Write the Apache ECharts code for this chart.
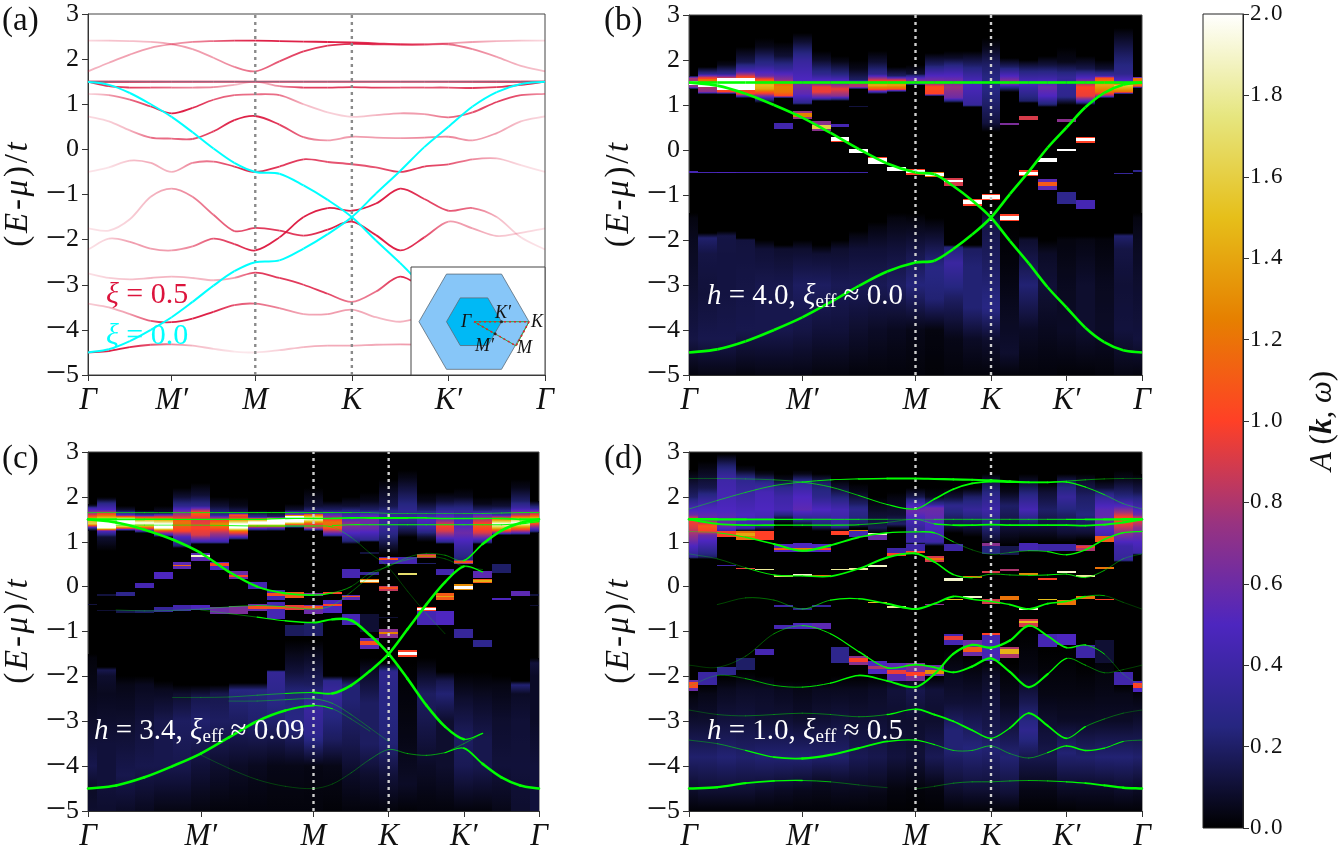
<!DOCTYPE html>
<html>
<head>
<meta charset="utf-8">
<style>html,body{margin:0;padding:0;background:#fff}#chart{width:1341px;height:856px}</style>
<script src="https://cdn.jsdelivr.net/npm/echarts@6/dist/echarts.min.js"></script>
</head>
<body>
<div id="chart"></div>
<script>
// High-symmetry path: tick positions and sampling of the band arrays along it
const tickNames = ['Γ', 'M′', 'M', 'K', 'K′', 'Γ'];
const kTicksA = [0, 0.866, 1.732, 2.732, 3.732, 4.732];
const kTicksMap = [0, 6, 12, 16, 20, 24];
const kGridA = [0, 0.2165, 0.433, 0.6495, 0.866, 1.0825, 1.299, 1.5155, 1.732, 1.982, 2.232, 2.482, 2.732, 2.982, 3.232, 3.482, 3.732, 3.982, 4.232, 4.482, 4.732];
const kGridMap = [0, 1.5, 3, 4.5, 6, 7.5, 9, 10.5, 12, 13, 14, 15, 16, 17, 18, 19, 20, 21, 22, 23, 24];
const energyTicks = [-5, 3];
const colorTicksMax = 2;

// Non-interacting bands (xi = 0)
const freeUpper = [1.5, 1.43, 1.25, 1, .72, .38, .02, -.3, -.5, -.54, -.8, -1.12, -1.5, -2.02, -2.52, -3.05, -3.5, -3.95, -4.27, -4.45, -4.5];
const freeLower = [-4.5, -4.43, -4.25, -4, -3.72, -3.38, -3.02, -2.7, -2.5, -2.46, -2.2, -1.88, -1.5, -.98, -.48, .05, .5, .95, 1.27, 1.45, 1.5];
const flatLevel = [1.5, 1.5, 1.5, 1.5, 1.5, 1.5, 1.5, 1.5, 1.5, 1.5, 1.5, 1.5, 1.5, 1.5, 1.5, 1.5, 1.5, 1.5, 1.5, 1.5, 1.5];
const fullWeight = [1, 1, 1, 1, 1, 1, 1, 1, 1, 1, 1, 1, 1, 1, 1, 1, 1, 1, 1, 1, 1];

// xi = 0.5 bands with their spectral weights
const halfA = [2.41, 2.41, 2.40, 2.38, 2.33, 2.22, 2.03, 1.83, 1.73, 1.95, 2.17, 2.30, 2.34, 2.33, 2.32, 2.32, 2.33, 2.22, 2.05, 1.85, 1.73];
const halfB = [1.73, 1.92, 2.1, 2.25, 2.33, 2.38, 2.40, 2.41, 2.41, 2.40, 2.39, 2.38, 2.37, 2.35, 2.33, 2.33, 2.35, 2.38, 2.40, 2.41, 2.41];
const halfD = [1.5, 1.40, 1.37, 1.37, 1.37, 1.37, 1.38, 1.43, 1.5, 1.40, 1.37, 1.37, 1.38, 1.37, 1.37, 1.37, 1.37, 1.36, 1.38, 1.43, 1.5];
const halfE = [1.23, 1.2, 1.1, .95, .8, .92, 1.1, 1.2, 1.22, 1.2, 1.0, .82, .72, .76, .8, .78, .71, .82, 1.05, 1.2, 1.23];
const halfF = [.73, .62, .42, .26, .24, .23, .4, .65, .74, .55, .27, .2, .28, .26, .25, .26, .28, .2, .36, .62, .73];
const halfG = [-.5, -.4, -.25, -.3, -.5, -.3, -.27, -.38, -.5, -.38, -.22, -.28, -.33, -.4, -.5, -.38, -.33, -.22, -.2, -.35, -.5];
const halfH = [-1.75, -1.8, -1.55, -1.05, -.87, -1.05, -1.45, -1.81, -1.74, -1.8, -1.91, -1.78, -1.6, -1.9, -2.24, -1.95, -1.6, -1.75, -1.92, -1.85, -1.75];
const halfI = [-2.22, -1.98, -2.05, -2.2, -2.24, -2.15, -1.98, -2.1, -2.24, -1.95, -1.5, -1.3, -1.36, -1.2, -.87, -1.1, -1.36, -1.3, -1.5, -1.95, -2.22];
const halfJ = [-2.75, -2.85, -2.88, -2.85, -2.82, -2.85, -2.9, -2.85, -2.73, -2.85, -3, -3.2, -3.38, -3.15, -2.82, -3.1, -3.38, -3.12, -2.95, -2.82, -2.75];
const halfK = [-3.42, -3.5, -3.65, -3.8, -3.83, -3.75, -3.6, -3.45, -3.42, -3.52, -3.65, -3.65, -3.55, -3.72, -3.82, -3.7, -3.55, -3.65, -3.6, -3.45, -3.42];
const halfL = [-4.5, -4.47, -4.38, -4.33, -4.32, -4.35, -4.42, -4.48, -4.5, -4.45, -4.38, -4.35, -4.35, -4.33, -4.32, -4.33, -4.35, -4.38, -4.43, -4.48, -4.5];
const weightA = [.05, .15, .15, .2, .3, .3, .3, .4, .5, .6, .7, .7, .8, .7, .6, .5, .5, .4, .3, .2, .15];
const weightB = [.2, .25, .3, .3, .3, .4, .5, .7, .8, .8, .8, .8, .8, .7, .6, .4, .3, .3, .2, .15, .05];
const weightC = [1, 1, .8, .6, .4, .4, .3, .3, .1, .3, .3, .3, .3, .3, .3, .3, .4, .6, .8, 1, 1];
const weightD = [.9, .7, .7, .6, .5, .4, .4, .2, .1, .4, .7, .7, .7, .7, .6, .6, .6, .7, .7, .8, .9];
const weightE = [.03, .3, .5, .7, .9, .8, .6, .5, .5, .5, .2, .1, .1, .2, .3, .3, .5, .6, .7, .6, .3];
const weightF = [.05, .1, .2, .5, .5, .6, .7, .8, .9, .7, .5, .3, .3, .3, .3, .4, .4, .3, .3, .15, .05];
const weightG = [.02, .02, .15, .25, .2, .4, .5, .7, .8, .7, .7, .6, .6, .6, .7, .7, .6, .4, .2, .05, .02];
const weightH = [.02, .05, .1, .2, .3, .4, .5, .6, .7, .7, .7, .8, .9, .8, .9, .7, .3, .3, .15, .1, .02];
const weightI = [.02, .1, .3, .3, .3, .4, .6, .7, .8, .8, .9, .9, .9, .9, .8, .7, .6, .5, .2, .05, .02];
const weightJ = [.02, .1, .15, .2, .2, .2, .2, .3, .7, .7, .7, .7, .4, .5, .9, .7, .6, .3, .2, .1, .02];
const weightK = [.1, .2, .3, .6, .9, .9, .8, .6, .5, .4, .25, .3, .3, .2, .2, .3, .6, .6, .5, .3, .15];
const weightL = [1, .9, .8, .6, .4, .2, .1, 0, 0, .1, .2, .25, .25, .25, .3, .3, .4, .6, .8, .9, 1];

// xi = 0.09 bands; null marks a stretch without visible weight
const partA = [1.5, 1.43, 1.27, 1.05, .75, .33, 0, -.15, -.19, -.14, 0, .3, .45, .65, .74, .7, .58, .95, 1.25, 1.42, 1.5];
const partAw = [1, 1, 1, 1, 1, .9, .9, .7, .6, .4, .15, .15, .15, .15, .15, .2, .3, 1, 1, 1, 1];
const partB = [null, -.52, -.54, -.53, -.5, -.45, -.42, -.45, -.5, -.42, -.12, .22, .47, .6, .68, .62, .45, .38, null, null, null];
const partBw = [0, .1, .1, .1, .15, .2, .3, .3, .3, .2, .15, .15, .15, .1, .1, .1, .1, .1, 0, 0, 0];
const partC = [null, null, null, -2.47, -2.47, -2.46, -2.42, -2.38, -2.36, -2.38, -2.2, -1.88, -1.5, -.95, -.4, .1, .45, .33, null, null, null];
const partCw = [0, 0, 0, .05, .1, .15, .2, .3, .5, .9, 1, 1, 1, 1, 1, 1, .8, .1, 0, 0, 0];
const partD = [-4.5, -4.43, -4.25, -4, -3.72, -3.36, -3, -2.76, -2.65, -2.72, -2.95, -3.22, null, null, null, null, null, null, null, null, null];
const partDw = [1, 1, 1, 1, 1, 1, 1, .9, .7, .2, .1, .1, 0, 0, 0, 0, 0, 0, 0, 0, 0];
const partE = [null, null, null, null, -.52, -.6, -.68, -.76, -.8, -.73, -.75, -1.08, -1.5, -2.05, -2.64, -3.12, -3.4, -3.27, null, null, null];
const partEw = [0, 0, 0, 0, .1, .15, .3, .5, .6, .9, 1, 1, 1, 1, 1, 1, .9, .1, 0, 0, 0];
const partF = [null, null, null, null, null, -2.55, -2.55, -2.52, -2.5, -2.6, -2.85, -3.15, -3.45, null, null, null, null, null, null, null, null];
const partFw = [0, 0, 0, 0, 0, .1, .15, .2, .3, .2, .15, .1, .08, 0, 0, 0, 0, 0, 0, 0, 0];
const partG = [null, null, null, null, -3.75, -4.05, -4.3, -4.45, -4.5, -4.4, -4.15, -3.85, -3.63, -3.72, -3.76, -3.7, -3.6, -3.95, -4.25, -4.43, -4.5];
const partGw = [0, 0, 0, 0, .05, .05, .05, .05, .05, .05, .1, .15, .25, .25, .25, .3, .5, 1, 1, 1, 1];
const partH = [null, null, null, null, null, null, null, null, null, null, null, null, null, null, null, -3.7, -3.5, -3.27, null, null, null];
const partHw = [0, 0, 0, 0, 0, 0, 0, 0, 0, 0, 0, 0, 0, 0, 0, .15, .3, .1, 0, 0, 0];
const partI = [null, 1.37, 1.37, 1.37, 1.37, 1.36, 1.35, 1.35, 1.35, 1.33, 1.1, .75, .42, -.1, -.6, -1.05, null, null, null, null, null];
const partIw = [0, .3, .3, .3, .3, .3, .4, .4, .4, .3, .1, .1, .06, .06, .06, .06, 0, 0, 0, 0, 0];
const partJ = [1.65, 1.65, 1.65, 1.65, 1.65, 1.65, 1.65, 1.65, 1.65, 1.65, 1.65, 1.65, 1.63, 1.63, 1.63, 1.63, 1.63, 1.63, 1.64, 1.65, 1.65];
const partJw = [.3, .3, .3, .3, .3, .35, .35, .35, .35, .35, .3, .25, .25, .25, .25, .25, .25, .3, .3, .35, .35];
const partK = [1.5, 1.5, 1.5, 1.5, 1.5, 1.5, 1.5, 1.52, 1.52, 1.52, 1.53, 1.53, 1.53, 1.53, 1.53, 1.52, 1.52, 1.52, 1.52, 1.5, 1.5];
const partKw = [1, .8, .6, .5, .5, .5, .5, .5, .6, .6, .7, .7, .7, .7, .6, .6, .6, .5, .6, .8, 1];
const partL = [null, null, null, null, null, null, null, null, null, 1.36, 1.38, 1.38, 1.38, 1.38, 1.38, 1.38, 1.38, 1.38, 1.38, 1.4, 1.45];
const partLw = [0, 0, 0, 0, 0, 0, 0, 0, 0, .3, .4, .4, .4, .4, .4, .4, .4, .4, .4, .4, .5];

// Spectral function A(k, w): one row per k column, flat [E, A, E, A, ...] profiles
const lowB = [
  [-5,.04,-4.2,.18,-3,.12,-2,.08,-1.5,.04,-1.4,0],
  [-5,.05,-4.2,.2,-3.2,.15,-2.3,.18,-1.95,.28,-1.85,0],
  [-5,.05,-4.2,.2,-3.2,.17,-2.3,.17,-1.9,.18,-1.8,0],
  [-5,.04,-4,.2,-3,.18,-2,.16,-1.95,0],
  [-5,.05,-4,.2,-3,.2,-2.2,.14,-2,0],
  [-5,.05,-4,.2,-3,.2,-2.2,.12,-2.1,0],
  [-5,.05,-4,.18,-3,.25,-2.2,.12,-2,0],
  [-5,.04,-4,.15,-3,.25,-2.3,.13,-2.1,0],
  [-5,.04,-4,.15,-3,.22,-2.2,.12,-2,0],
  [-5,.03,-4,.12,-3,.22,-2.2,.14,-1.9,.05,-1.8,0],
  [-5,.03,-4,.1,-3,.22,-2.2,.14,-1.7,.04,-1.6,0],
  [-5,.03,-4,.08,-3,.25,-2.2,.15,-1.5,.04,-1.4,0],
  [-5,.03,-4,.06,-3,.32,-2.3,.2,-1.6,.05,-1.4,0],
  [-5,.02,-4,.04,-3.3,.3,-2.6,.35,-2,.15,-1.6,.03,-1.5,0],
  [-5,.03,-4.2,.06,-3.3,.25,-2.5,.5,-2.15,.3,-2.1,0],
  [-5,.03,-4.2,.1,-3.5,.3,-2.6,.3,-2.2,.25,-2.1,0],
  [-5,.03,-4.2,.12,-3.5,.35,-2.5,.25,-1.6,.18,-1.3,0],
  [-5,.03,-4.5,.12,-3.5,.08,-2.5,.03,-1.6,0],
  [-5,.03,-4,.1,-3,.3,-2.5,.2,-2,.12,-1.9,0],
  [-5,.03,-4,.08,-3,.14,-2.3,.1,-2,0],
  [-5,.02,-4,.1,-3,.08,-2,.04,-1.9,0],
  [-5,.02,-4,.12,-3,.12,-2,.05,-1.9,0],
  [-5,.03,-4,.1,-3,.08,-2,.03,-1.9,0],
  [-5,.05,-4,.16,-3,.14,-2.2,.18,-1.9,.28,-1.85,0],
  [-5,.04,-4.2,.16,-3,.12,-2,.08,-1.5,.04,-1.4,0]
];
const highB = [
  [1.35,0,1.4,.7,1.6,.8,1.65,0],
  [1.25,0,1.3,.7,1.6,1,1.7,.3,1.85,0],
  [1.25,0,1.3,1,1.55,1.2,1.7,.3,1.9,.05,2,0],
  [1.15,0,1.25,1,1.6,1.1,1.75,.45,1.95,.15,2.3,0],
  [1.05,0,1.15,.4,1.25,.9,1.35,1.4,1.45,1.5,1.55,1.1,1.65,.6,1.9,.3,2.3,.05,2.5,0],
  [1.15,0,1.2,1,1.3,1.2,1.4,1.25,1.5,1.1,1.55,.7,1.8,.35,2.1,.1,2.4,0],
  [1,0,1.05,.3,1.25,.55,1.45,.65,1.55,.5,2,.35,2.4,.1,2.6,0],
  [1.1,0,1.15,.5,1.3,.95,1.4,.95,1.5,.6,1.7,.3,2,.08,2.2,0],
  [1.1,0,1.2,.7,1.35,.95,1.5,.6,1.7,.25,1.95,.05,2.1,0],
  [1.35,0,1.4,.8,1.5,.8,1.55,.2,1.8,.05,2,0],
  [1.25,0,1.3,.4,1.35,1.1,1.45,1.45,1.5,1.2,1.6,.7,1.7,.3,1.95,.1,2.2,0],
  [1.3,0,1.35,1.1,1.45,1.4,1.55,.9,1.65,.2,1.85,0],
  [1.45,0,1.5,.8,1.6,.5,1.7,.1,1.9,0],
  [1.2,0,1.25,1,1.4,1.05,1.5,.7,1.7,.45,1.9,.2,2.15,0],
  [1.05,0,1.15,.6,1.4,.75,1.55,.6,1.8,.35,2.05,.08,2.2,0],
  [.95,0,1,.35,1.5,.5,1.9,.2,2.2,0],
  [.4,0,.6,.12,1,.2,1.5,.28,1.9,.2,2.3,.05,2.5,0],
  [1.3,0,1.4,.3,1.5,.75,1.65,.5,1.85,.2,2.05,0],
  [1.05,0,1.1,.2,1.4,.4,1.5,.5,1.8,.2,2,0],
  [.95,0,1,.2,1.2,.5,1.4,.6,1.6,.4,1.9,.12,2.1,0],
  [1,0,1.2,.3,1.6,.35,1.95,.05,2.3,0],
  [1,0,1.1,.5,1.2,.95,1.4,1,1.6,.5,1.8,.15,2.1,0],
  [1.15,0,1.2,.7,1.3,1.2,1.45,1.4,1.6,1.05,1.65,.4,1.8,.1,2,0],
  [1.25,0,1.3,1.2,1.45,1.6,1.5,.6,1.7,.3,2.1,.2,2.6,.04,2.7,0],
  [1.38,0,1.42,1.2,1.6,1.2,1.62,0]
];
// Sharp quasiparticle peaks: [E from, E to, A]
const spotsB = [
  [[-.5,-.46,.45],[1.44,1.54,2]],
  [[-.52,-.49,.45],[1.52,1.57,1.2],[1.4,1.5,2]],
  [[-.52,-.49,.5],[1.33,1.6,2]],
  [[-.52,-.49,.45],[1.33,1.6,2]],
  [[-.52,-.49,.45]],
  [[-.52,-.49,.45],[.47,.59,.42]],
  [[-.52,-.49,.45],[.68,.86,.75],[.74,.82,1.25]],
  [[-.52,-.49,.45],[.42,.65,.7],[.47,.56,1.6]],
  [[-.52,-.49,.45],[.52,.58,.45],[.18,.3,1],[.2,.28,2]],
  [[-.52,-.49,.4],[-.06,.02,2],[.95,.98,.12]],
  [[-.32,-.15,1],[-.3,-.17,2]],
  [[-.47,-.38,2]],
  [[-.56,-.43,1],[-.52,-.45,2]],
  [[-.6,-.48,1.2],[-.58,-.5,2]],
  [[-.8,-.63,.9],[-.72,-.66,2]],
  [[-1.25,-1.08,1],[-1.2,-1.1,2]],
  [[-1.12,-.98,1],[-1.08,-1,2]],
  [[.55,.6,.65],[-1.58,-1.42,1],[-1.55,-1.46,2]],
  [[.67,.75,.9],[-.58,-.45,1],[-.55,-.48,2]],
  [[-.26,-.17,2],[-.88,-.65,.55],[-.79,-.72,1.1]],
  [[.62,.7,.7],[-.03,.03,2],[-1.2,-.93,.3]],
  [[.16,.28,1],[.19,.26,2],[-1.3,-1.12,.45]],
  [],
  [[-.54,-.5,.35]],
  [[-.49,-.45,.3]]
];

const lowC = [
  [-5,.12,-4.5,.1,-4,.2,-3.2,.12,-2.2,.06,-1.6,.03,-1.5,0],
  [-5,.12,-4.4,.15,-3.5,.15,-2.4,.08,-2,.12,-1.85,.2,-1.8,0],
  [-5,.1,-4.2,.2,-3,.12,-2.2,.06,-2,0],
  [-5,.08,-4,.2,-3,.15,-2.2,.08,-2,0],
  [-5,.05,-4,.2,-3,.2,-2.3,.08,-2.1,0],
  [-5,.05,-4,.2,-3,.25,-2.4,.12,-2.2,0],
  [-5,.04,-4,.15,-3,.28,-2.45,.2,-2.2,0],
  [-5,.03,-4,.12,-3,.25,-2.4,.2,-2.2,0],
  [-5,.03,-4,.1,-3,.25,-2.3,.33,-2.15,0],
  [-5,.03,-4,.08,-3,.28,-2.3,.33,-2.15,0],
  [-5,.03,-4,.06,-3,.28,-2.3,.4,-1.9,.45,-1.85,0],
  [-5,.03,-4,.06,-3,.35,-2.3,.3,-1.9,.15,-1.2,0],
  [-5,.03,-4,.05,-3.3,.4,-2.7,.5,-2.2,.25,-1.5,.08,-1.2,0],
  [-5,.02,-4,.06,-3.4,.25,-2.8,.35,-2.4,.5,-2.1,.4,-2,0],
  [-5,.03,-4.2,.1,-3.5,.2,-2.5,.3,-2.2,.3,-2,0],
  [-5,.03,-4.2,.12,-3.5,.25,-2.6,.25,-1.9,.1,-1.6,0],
  [-5,.03,-4.2,.15,-3.5,.3,-2.5,.35,-1.9,.4,-1.7,0],
  [-5,.02,-4.4,.1,-3.5,.06,-2.5,.03,-1.7,0],
  [-5,.03,-4,.1,-3,.2,-2.4,.25,-1.8,.05,-1.6,0],
  [-5,.03,-4,.12,-3,.12,-2.4,.3,-2.1,.2,-1.9,0],
  [-5,.03,-4,.22,-3.4,.25,-2.5,.12,-1.9,0],
  [-5,.03,-4,.2,-3.4,.2,-2.5,.1,-1.9,0],
  [-5,.06,-4,.15,-3,.12,-2.2,.05,-2,0],
  [-5,.12,-4,.15,-3,.14,-2.4,.1,-2.2,.3,-2.1,0],
  [-5,.15,-4,.15,-3,.1,-2,.1,-1.7,.15,-1.6,0]
];
const highC = [
  [1.25,0,1.3,.3,1.4,1.6,1.5,1.5,1.6,.9,1.75,.4,1.8,.1,1.85,0],
  [.8,0,1.1,.1,1.25,.5,1.3,2,1.45,2,1.55,1.4,1.7,.5,1.85,.3,1.95,.05,2,0],
  [1.25,0,1.27,.3,1.32,1.5,1.4,2,1.5,2,1.6,.5,1.7,.1,1.8,0],
  [1.2,0,1.25,.4,1.35,1.5,1.42,2,1.55,1,1.6,.3,1.7,0],
  [1.1,0,1.15,.4,1.25,1,1.3,2,1.4,2,1.55,1,1.65,.1,1.8,0],
  [.85,0,.9,.2,1.1,.5,1.25,1,1.45,1.2,1.6,.8,1.8,.3,2,.1,2.2,0],
  [.95,0,1,.4,1.15,.9,1.3,1,1.5,.9,1.65,1.1,1.8,.3,2.05,.1,2.3,0],
  [.95,0,1,.4,1.2,.8,1.4,1.3,1.5,.9,1.6,.3,1.8,.1,2,0],
  [1.05,0,1.1,.5,1.25,1.2,1.3,2,1.4,2,1.55,.9,1.6,1.1,1.65,.2,1.8,.05,2,0],
  [1.25,0,1.3,.6,1.35,1.2,1.4,2,1.45,2,1.5,1.2,1.55,.3,1.7,0],
  [1.25,0,1.3,.5,1.4,2,1.5,2,1.55,.2,1.7,0],
  [1.3,0,1.35,.6,1.45,2,1.57,2,1.6,.7,1.7,.1,1.85,0],
  [1.25,0,1.3,.8,1.4,1,1.5,2,1.6,1.2,1.65,.3,1.8,.1,2.2,0],
  [1.1,0,1.15,.4,1.3,1.1,1.45,1.2,1.55,.7,1.7,.2,1.9,0],
  [.95,0,1,.2,1.2,.5,1.4,.7,1.6,.4,1.8,.1,2,0],
  [1,0,1.05,.3,1.3,.6,1.55,.6,1.7,.2,1.9,.05,2.1,0],
  [.7,0,.9,.1,1.3,.35,1.6,.35,1.8,.15,2.2,.05,2.4,0],
  [1.1,0,1.2,.1,1.5,.35,1.7,.3,2.1,.15,2.4,.05,2.6,0],
  [1,0,1.1,.1,1.3,.4,1.5,.5,1.7,.2,1.9,.05,2.1,0],
  [.95,0,1,.3,1.25,.9,1.35,1,1.5,.6,1.7,.3,1.9,.1,2.1,0],
  [.5,0,.55,.2,.9,.4,1.2,.6,1.5,.45,1.7,.3,2,.05,2.2,0],
  [.95,0,1,.3,1.2,.9,1.35,1.1,1.5,.8,1.7,.2,1.85,.05,2,0],
  [1.15,0,1.2,.6,1.3,1.5,1.4,2,1.5,1.2,1.6,.4,1.8,.1,2,0],
  [1.15,0,1.2,.5,1.35,1.5,1.42,2,1.5,1.6,1.6,.8,1.75,.4,1.9,.2,2.2,.05,2.4,0],
  [1.2,0,1.25,.3,1.4,1,1.5,1.6,1.6,1,1.75,.3,1.9,0]
];
const spotsC = [
  [[-.41,-.39,.12]],
  [[-.2,-.17,.12],[-.54,-.51,.1]],
  [[-.2,-.13,.3],[-.58,-.53,.15]],
  [[-.02,.07,.45],[-.58,-.52,.2]],
  [[.18,.33,.5],[-.57,-.45,.35]],
  [[.4,.55,.55],[.45,.49,1.15],[-.55,-.42,.42]],
  [[.58,.75,.55],[.65,.7,1.9],[-.52,-.4,.5]],
  [[.38,.55,.5],[.47,.52,1],[-.6,-.45,.6]],
  [[.18,.35,.6],[.22,.27,1],[-.6,-.43,.65]],
  [[-.05,.1,.45],[-.55,-.38,.6],[-.5,-.43,1.05]],
  [[-.3,-.08,.45],[-.21,-.14,1.05],[-.72,-.35,.45],[-.5,-.43,1.05]],
  [[-.25,-.12,1.1],[-.52,-.4,.95],[-1.1,-.85,.18]],
  [[-.22,-.15,.65],[-.6,-.4,.6],[-.5,-.44,1.05],[-1.1,-.8,.2]],
  [[-.17,-.12,1],[-.58,-.3,.5],[-.43,-.38,1]],
  [[.2,.4,.45],[-.3,-.18,.55],[-.24,-.2,1.05],[-.85,-.6,.45]],
  [[.08,.17,1.2],[.11,.15,1.9],[.25,.32,.35],[-1.38,-1.15,.55],[-1.3,-1.22,1.05],[-1,-.6,.1],[.72,.78,.12]],
  [[.5,.65,.45],[.6,.64,1.05],[-.1,.02,.85],[-.06,-.01,1.05],[-1.15,-.95,.7],[-1.06,-1,1.25],[-.7,-.68,.1]],
  [[.5,.65,.45],[.26,.3,1.7],[-1.56,-1.42,1],[-1.53,-1.45,2]],
  [[.63,.72,.85],[.66,.7,1.1],[.5,.53,.2],[-.55,-.45,1],[-.53,-.47,2],[-.85,-.55,.45]],
  [[.25,.4,.42],[-.3,-.15,1.1],[-.24,-.2,1.4],[-.85,-.55,.5]],
  [[.5,.6,.7],[.53,.57,1.05],[-.08,.05,1.3],[-.05,.01,2],[-1.15,-.95,.35]],
  [[.2,.35,.55],[.08,.18,1.1],[-1.35,-1.2,.3],[.1,.14,1.45]],
  [[.38,.42,.5],[.3,.5,.2],[-.3,-.25,.5]],
  [[-.2,-.1,.55]],
  [[-.2,-.17,.12],[-.42,-.4,.1]]
];

const lowD = [
  [-5,.02,-4.6,.1,-3.8,.28,-3,.12,-2.5,.05,-2.3,0],
  [-5,.02,-4.6,.12,-3.8,.28,-3,.12,-2.4,.06,-2.2,0],
  [-5,.02,-4.6,.12,-3.8,.3,-3,.16,-2.3,.08,-2,0],
  [-5,.02,-4.6,.12,-3.8,.28,-3,.16,-2.3,.1,-1.9,0],
  [-5,.02,-4.6,.1,-3.8,.3,-3,.14,-2.3,.1,-2,0],
  [-5,.02,-4.5,.1,-3.8,.3,-3,.14,-2.3,.08,-2.1,0],
  [-5,.02,-4.5,.08,-3.8,.3,-3,.12,-2.3,.06,-2.1,0],
  [-5,.02,-4.4,.08,-3.8,.28,-3,.14,-2.3,.08,-2.1,0],
  [-5,.02,-4.4,.1,-3.8,.28,-3,.16,-2.3,.08,-2,0],
  [-5,.02,-4.5,.08,-3.8,.22,-3,.14,-2.3,.08,-2,0],
  [-5,.02,-4.6,.06,-3.8,.2,-3,.14,-2.3,.1,-2,0],
  [-5,.01,-4.5,.04,-3.8,.16,-3,.12,-2.3,.15,-2,0],
  [-5,.01,-4.5,.03,-3.8,.14,-3,.12,-2.3,.2,-2,0],
  [-5,.01,-4.5,.04,-3.8,.22,-3,.12,-2.3,.15,-2,0],
  [-5,.02,-4.5,.12,-3.6,.3,-3.2,.3,-2.6,.14,-2,.08,-1.4,0],
  [-5,.02,-4.5,.14,-3.6,.32,-3.2,.25,-2.6,.14,-2,.06,-1.6,0],
  [-5,.02,-4.5,.14,-3.6,.3,-3.2,.2,-2.6,.16,-2,.1,-1.6,0],
  [-5,.02,-4.6,.14,-3.8,.3,-3.2,.18,-2.6,.08,-1.7,0],
  [-5,.01,-4.5,.06,-3.8,.2,-3.2,.4,-2.6,.22,-1.9,.05,-1,0],
  [-5,.01,-4.5,.06,-3.8,.2,-3.2,.14,-2.4,.05,-1.4,0],
  [-5,.01,-4.5,.1,-3.7,.3,-3,.1,-2.4,.05,-1.4,0],
  [-5,.02,-4.5,.1,-3.8,.28,-3,.1,-2.4,.05,-1.7,0],
  [-5,.02,-4.5,.1,-3.8,.3,-3,.1,-2.4,.06,-1.2,0],
  [-5,.02,-4.5,.12,-3.8,.3,-3,.1,-2.4,.06,-2.2,0],
  [-5,.02,-4.5,.1,-3.8,.28,-3,.12,-2.5,.05,-2.3,0]
];
const highD = [
  [.62,0,.65,.3,.9,.5,1.1,.7,1.3,.9,1.5,1,1.6,.6,1.8,.4,2,.2,2.3,.1,2.6,0],
  [.62,0,.65,.2,.9,.4,1.15,.6,1.25,1,1.35,1.1,1.5,.6,1.8,.45,2.2,.15,2.6,.05,2.8,0],
  [1.2,0,1.25,.4,1.35,.6,1.7,.5,2,.45,2.4,.4,2.7,.2,2.95,0],
  [1.25,0,1.3,.4,1.6,.5,2,.4,2.4,.3,2.6,.05,2.7,0],
  [1.25,0,1.4,.4,1.7,.5,2.1,.45,2.3,.3,2.5,.05,2.6,0],
  [1.4,0,1.5,.1,1.7,.45,2,.4,2.2,.3,2.4,.05,2.5,0],
  [1.3,0,1.5,.3,1.7,.55,2,.5,2.3,.35,2.5,.05,2.6,0],
  [1.25,0,1.35,.2,1.7,.5,2,.3,2.3,.2,2.5,0],
  [1.25,0,1.35,.35,1.7,.45,1.9,.3,2.2,.1,2.4,0],
  [1.3,0,1.4,.2,1.7,.3,1.85,.2,2.1,.05,2.3,0],
  [1.2,0,1.3,.15,1.6,.1,1.8,.05,2,0],
  [1.3,0,1.4,.2,1.6,.1,1.9,.05,2.1,0],
  [.95,0,1,.4,1.3,.35,1.7,.6,1.8,.5,2,.15,2.2,0],
  [.9,0,1,.4,1.4,.5,1.5,.55,1.75,.6,1.85,.3,2,.05,2.2,0],
  [1.2,0,1.4,.15,1.8,.3,2,.1,2.2,0],
  [1.1,0,1.3,.1,1.7,.35,2,.2,2.2,0],
  [.95,0,1.05,.1,1.7,.4,2,.3,2.3,.15,2.5,0],
  [.9,0,1.1,.05,1.5,.15,1.8,.2,2.1,.05,2.3,0],
  [1,0,1.3,.1,1.7,.45,2,.3,2.3,.1,2.5,0],
  [1,0,1.3,.1,1.7,.2,2.1,.1,2.3,0],
  [1,0,1.2,.1,1.6,.2,2,.35,2.3,.2,2.5,0],
  [1.05,0,1.2,.1,1.6,.25,2,.2,2.3,.1,2.5,0],
  [1,0,1.1,.4,1.4,.6,1.7,.55,2,.35,2.2,.1,2.4,0],
  [.55,0,.6,.35,.9,.4,1.2,.7,1.5,1.1,1.65,.8,1.8,.5,2,.25,2.4,.05,2.6,0],
  [.7,0,.75,.4,1,.5,1.3,.7,1.5,1,1.6,.6,1.8,.4,2.1,.15,2.5,0]
];
const spotsD = [
  [[-2.32,-2.08,.6],[-2.25,-2.13,1.05]],
  [[-2.2,-1.9,.38]],
  [[-1.98,-1.8,.3],[.45,.48,.4],[1.1,1.25,1]],
  [[-1.85,-1.6,.2],[.39,.42,.95],[1.05,1.25,1.2],[1.12,1.2,1.4]],
  [[-1.52,-1.38,.45],[.36,.39,1.8],[1.05,1.25,1]],
  [[-.95,-.85,.45],[-.45,-.41,.4],[.22,.25,1.7],[.78,.95,.5],[.82,.87,1.1]],
  [[-.95,-.8,.5],[-.52,-.48,.3],[.24,.29,1.9],[.78,.98,.5],[.81,.87,1.25]],
  [[-.95,-.8,.55],[-.45,-.41,.35],[.22,.26,1.2],[.78,.95,.5],[.82,.86,1]],
  [[-1.7,-1.35,.3],[.36,.4,1.8],[1.15,1.25,1]],
  [[-1.75,-1.55,.7],[-1.68,-1.6,1],[.37,.42,1.8],[1.23,1.27,1.25],[1.1,1.23,.45]],
  [[-1.95,-1.65,.5],[-1.84,-1.76,.8],[-.37,-.34,1.5],[.43,.48,1.9],[1.05,1.2,.6],[1.15,1.2,1.9]],
  [[-2.1,-1.7,.55],[-1.95,-1.85,.95],[-.47,-.44,1.8],[.68,.75,1],[.75,.85,.4]],
  [[-2.1,-1.7,.65],[-2,-1.9,1],[.75,.95,.4],[.76,.8,1]],
  [[-2,-1.75,.6],[-1.95,-1.85,1.3],[-.42,-.38,.7],[.55,.68,.9],[.6,.64,1.2]],
  [[-1.3,-1.05,.45],[-1.2,-1.1,.95],[-.3,-.27,1.5],[.13,.2,1.9],[.8,.95,.4]],
  [[-1.55,-1.2,.6],[-1.45,-1.35,1.1],[-.25,-.2,1.9],[.2,.24,1.2]],
  [[-1.65,-1.05,.45],[-1.08,-1.03,1],[-.38,-.28,.9],[.31,.35,.9],[.9,.97,.7],[.72,.9,.25]],
  [[-1.6,-1.35,.8],[-1.5,-1.38,1.45],[-.3,-.2,1.2],[.35,.39,.8],[.7,.9,.15]],
  [[-.9,-.72,.9],[-.82,-.76,1.5],[-.53,-.48,1.9],[.26,.3,1.3],[.8,.97,.45]],
  [[-1.35,-1.05,.45],[-.3,-.27,1.5],[.14,.19,1],[.8,.95,.4]],
  [[-1.3,-1.05,.5],[-.4,-.3,1.2],[.3,.35,1.9],[.8,.95,.4]],
  [[-1.6,-1.3,.4],[-.27,-.22,1.2],[.22,.27,1.8],[.8,.92,.8],[.85,.9,.95]],
  [[-1.7,-1.2,.1],[-.3,-.27,1],[.4,.43,1.2],[1,1.12,1.1]],
  [[-2.2,-1.9,.42]],
  [[-2.35,-2.1,.5],[-2.25,-2.15,1]]
];
// The continuum below the flat band sits a little under the profile peaks as tabulated
const continuumScale = .75;

// Inset: Brillouin-zone outlines and the k path
const zoneOuter = [[1, 0], [.5, .866], [-.5, .866], [-1, 0], [-.5, -.866], [.5, -.866]];
const zoneInner = [[.5, 0], [.25, .433], [-.25, .433], [-.5, 0], [-.25, -.433], [.25, -.433]];
const kPath = [[0, 0], [.5, 0], [1, 0], [.764, -.44], [.382, -.22], [0, 0]];
const kMarks = [[.5, 0], [.382, -.22]];

// Colour scale of A(k, w), evenly spaced over 0..2
const cmapStops = ['#000000', '#262680', '#4d26bf', '#993380', '#ff4026', '#e68000', '#e6bf1a', '#e6e680', '#ffffff'];

const serif = '"Liberation Serif", serif';
const hexRgb = h => [1, 3, 5].map(i => parseInt(h.substr(i, 2), 16));
function cmap(v) {
  const t = Math.max(0, Math.min(0.9999, v / colorTicksMax)) * (cmapStops.length - 1);
  const i = Math.floor(t), f = t - i;
  const a = hexRgb(cmapStops[i]), b = hexRgb(cmapStops[i + 1]);
  return 'rgb(' + a.map((c, j) => Math.round(c + (b[j] - c) * f)).join(',') + ')';
}
function ramp(v0, v1) {
  const stops = [];
  for (let i = 0; i <= 6; i++) stops.push({ offset: i / 6, color: cmap(v0 + (v1 - v0) * i / 6) });
  return stops;
}

// Flatten profile and peak tables into [column, E0, E1, A0, A1] cells
function heatCells(low, high, spots) {
  const cells = [];
  low.forEach((row, c) => {
    for (let i = 0; i + 3 < row.length; i += 2) cells.push([c, row[i], row[i + 2], row[i + 1] * continuumScale, row[i + 3] * continuumScale]);
    const p = high[c];
    for (let i = 0; i + 3 < p.length; i += 2) cells.push([c, p[i], p[i + 2], p[i + 1], p[i + 3]]);
    spots[c].forEach(s => cells.push([c, s[0], s[1], s[2], s[2]]));
  });
  return cells;
}
function heatSeries(idx, low, high, spots) {
  return {
    type: 'custom', xAxisIndex: idx, yAxisIndex: idx, z: 1, silent: true, animation: false, progressive: 0,
    encode: { x: 0, y: [1, 2] },
    data: heatCells(low, high, spots),
    renderItem(params, api) {
      const c = api.value(0);
      const a = api.coord([c - .5, api.value(2)]), b = api.coord([c + .5, api.value(1)]);
      const s = params.coordSys;
      const x0 = Math.round(Math.max(a[0], s.x)), x1 = Math.round(Math.min(b[0], s.x + s.width));
      const y0 = Math.round(a[1]); let y1 = Math.round(b[1]);
      if (y1 <= y0) y1 = y0 + 1;
      const v0 = api.value(3), v1 = api.value(4);
      return {
        type: 'rect',
        shape: { x: x0, y: y0, width: x1 - x0, height: y1 - y0 },
        style: { fill: v0 === v1 ? cmap(v0) : new echarts.graphic.LinearGradient(0, 1, 0, 0, ramp(v0, v1)) }
      };
    }
  };
}

// Hermite-smoothed band segments; each carries the weights of its two ends
function bandSegments(grid, energy, weight, minWeight) {
  const out = [];
  for (let i = 0; i + 1 < grid.length; i++) {
    if (energy[i] == null || energy[i + 1] == null) continue;
    if (Math.max(weight[i], weight[i + 1]) < minWeight) continue;
    const p = i > 0 && energy[i - 1] != null ? i - 1 : i;
    const n = i + 2 < grid.length && energy[i + 2] != null ? i + 2 : i + 1;
    out.push([grid[i], energy[i], grid[i + 1], energy[i + 1], grid[p], energy[p], grid[n], energy[n], weight[i], weight[i + 1]]);
  }
  return out;
}
function bandSeries(idx, data, z, styler) {
  return {
    type: 'custom', xAxisIndex: idx, yAxisIndex: idx, z, silent: true, animation: false, progressive: 0,
    encode: { x: [0, 2], y: [1, 3] },
    data,
    renderItem(params, api) {
      const a = api.coord([api.value(0), api.value(1)]), b = api.coord([api.value(2), api.value(3)]);
      const m = api.coord([api.value(4), api.value(5)]), n = api.coord([api.value(6), api.value(7)]);
      const dx = b[0] - a[0];
      const s0 = (b[1] - m[1]) / Math.max(1e-6, b[0] - m[0]), s1 = (n[1] - a[1]) / Math.max(1e-6, n[0] - a[0]);
      return {
        type: 'bezierCurve',
        shape: { x1: a[0], y1: a[1], x2: b[0], y2: b[1], cpx1: a[0] + dx / 3, cpy1: a[1] + s0 * dx / 3, cpx2: b[0] - dx / 3, cpy2: b[1] - s1 * dx / 3 },
        style: styler(api.value(8), api.value(9))
      };
    }
  };
}
const crimsonStyle = (w0, w1) => {
  const al = w => Math.min(.95, .1 + w * 1.05);
  return {
    fill: null, lineWidth: 1.8,
    stroke: new echarts.graphic.LinearGradient(0, 0, 1, 0, [
      { offset: 0, color: 'rgba(220,20,60,' + al(w0) + ')' },
      { offset: 1, color: 'rgba(220,20,60,' + al(w1) + ')' }
    ])
  };
};
const cyanStyle = width => () => ({ fill: null, stroke: '#00ffff', lineWidth: width });
const greenStyle = (w0, w1) => {
  const w = (w0 + w1) / 2;
  return { fill: null, lineCap: 'round', stroke: '#00ff00', lineWidth: Math.max(.6, w * 2.6), opacity: Math.min(1, .3 + w * 2) };
};
const greenSolid = () => ({ fill: null, stroke: '#00ff00', lineWidth: 2.6 });

function segmentsOf(grid, list, minWeight) {
  return list.reduce((acc, b) => acc.concat(bandSegments(grid, b[0], b[1], minWeight)), []);
}
const halfBands = [[halfA, weightA], [halfB, weightB], [flatLevel, weightC], [halfD, weightD], [halfE, weightE], [halfF, weightF], [halfG, weightG], [halfH, weightH], [halfI, weightI], [halfJ, weightJ], [halfK, weightK], [halfL, weightL]];
const partBands = [[partA, partAw], [partB, partBw], [partC, partCw], [partD, partDw], [partE, partEw], [partF, partFw], [partG, partGw], [partH, partHw], [partI, partIw], [partJ, partJw], [partK, partKw], [partL, partLw]];
const freeBands = [[freeUpper, fullWeight], [freeLower, fullWeight], [flatLevel, fullWeight]];

function dottedMarks(idx, ticks, color) {
  return [2, 3].map(i => ({
    type: 'line', xAxisIndex: idx, yAxisIndex: idx, z: 3, silent: true, animation: false, symbol: 'none',
    lineStyle: { color, width: 2.4, type: [3, 4] },
    data: [[ticks[i], energyTicks[0]], [ticks[i], energyTicks[1]]]
  }));
}

const panels = [
  { left: 88, top: 14, width: 457, height: 361 },
  { left: 689, top: 15, width: 453, height: 360 },
  { left: 88, top: 452, width: 451, height: 359 },
  { left: 689, top: 452, width: 453, height: 359 }
];
const pathX = [kTicksA, kTicksMap, kTicksMap, kTicksMap];

const grids = panels.map((p, i) => ({ ...p, show: true, borderColor: '#444', borderWidth: 1, backgroundColor: i ? '#000' : '#fff' }));
const xAxes = panels.map((p, i) => ({
  type: 'value', gridIndex: i, min: 0, max: pathX[i][5],
  splitLine: { show: false },
  axisLine: { onZero: false, lineStyle: { color: '#333' } },
  axisTick: { length: 6, customValues: pathX[i], lineStyle: { color: '#333' } },
  axisLabel: {
    customValues: pathX[i], margin: 10, color: '#111', fontFamily: serif, fontStyle: 'italic', fontSize: 31,
    formatter: v => tickNames[pathX[i].indexOf(v)], hideOverlap: false
  }
}));
const yAxes = panels.map((p, i) => ({
  type: 'value', gridIndex: i, min: energyTicks[0], max: energyTicks[1], interval: 1,
  splitLine: { show: false },
  axisLine: { onZero: false, lineStyle: { color: '#333' } },
  axisTick: { length: 6, lineStyle: { color: '#333' } },
  axisLabel: {
    margin: 9, color: '#111', fontFamily: serif, fontSize: 26,
    formatter: v => v < 0 ? '{m|−}' + (-v) : String(v),
    rich: { m: { fontFamily: serif, fontSize: 36, color: '#111' } }
  },
  name: '(\u200a{i|E}\u200a-\u200a{i|μ}\u200a)\u200a/\u200a{i|t}', nameLocation: 'middle', nameGap: 53,
  nameTextStyle: { color: '#111', fontFamily: serif, fontSize: 33, rich: { i: { fontFamily: serif, fontStyle: 'italic', fontSize: 33, color: '#111' } } }
}));

// Colour bar
grids.push({ left: 1203, top: 14, width: 40, height: 814, show: false });
xAxes.push({ type: 'value', gridIndex: 4, min: 0, max: 1, show: false });
yAxes.push({
  type: 'value', gridIndex: 4, min: 0, max: colorTicksMax, interval: .2, position: 'right',
  splitLine: { show: false },
  axisLine: { show: true, onZero: false, lineStyle: { color: '#222' } },
  axisTick: { length: 6, lineStyle: { color: '#333' } },
  axisLabel: { margin: 7, color: '#111', fontFamily: serif, fontSize: 23, formatter: v => v.toFixed(1).split('').join('\u200a') },
  name: '{r|A\u00a0}{p|(}{b|k}{r|,\u00a0}{r|ω}{p|)}', nameLocation: 'middle', nameGap: 64, nameRotate: 90,
  nameTextStyle: {
    rich: {
      r: { fontFamily: serif, fontStyle: 'italic', fontSize: 31, color: '#111' },
      p: { fontFamily: serif, fontSize: 31, color: '#111' },
      b: { fontFamily: serif, fontStyle: 'italic', fontWeight: 'bold', fontSize: 31, color: '#111' }
    }
  }
});

// Inset axes in zone units, one unit being the outer circumradius
grids.push({ left: 411, top: 267, width: 134, height: 108, show: false });
xAxes.push({ type: 'value', gridIndex: 5, min: -1.145, max: 1.29, show: false });
yAxes.push({ type: 'value', gridIndex: 5, min: -.969, max: .995, show: false });

const series = [
  // (a)
  bandSeries(0, segmentsOf(kGridA, halfBands.concat([[flatLevel, fullWeight]]), 0), 2, crimsonStyle),
  bandSeries(0, segmentsOf(kGridA, freeBands.slice(0, 2), 0), 4, cyanStyle(2)),
  bandSeries(0, segmentsOf(kGridA, [[flatLevel, fullWeight]], 0), 3, () => ({ fill: null, stroke: 'rgba(0,255,255,.4)', lineWidth: 1 })),
  ...dottedMarks(0, kTicksA, '#8a8a8a'),
  // (b)
  heatSeries(1, lowB, highB, spotsB),
  ...dottedMarks(1, kTicksMap, '#cfcfcf'),
  bandSeries(1, segmentsOf(kGridMap, freeBands, 0), 4, greenSolid),
  // (c)
  heatSeries(2, lowC, highC, spotsC),
  ...dottedMarks(2, kTicksMap, '#cfcfcf'),
  bandSeries(2, segmentsOf(kGridMap, partBands, .04), 4, greenStyle),
  // (d)
  heatSeries(3, lowD, highD, spotsD),
  ...dottedMarks(3, kTicksMap, '#cfcfcf'),
  bandSeries(3, segmentsOf(kGridMap, halfBands, .04), 4, greenStyle),
  // colour bar
  {
    type: 'custom', xAxisIndex: 4, yAxisIndex: 4, silent: true, animation: false, z: 2,
    data: [[0, 0, 1, colorTicksMax]],
    renderItem(params, api) {
      const a = api.coord([api.value(0), api.value(3)]), b = api.coord([api.value(2), api.value(1)]);
      const stops = cmapStops.map((c, i) => ({ offset: i / (cmapStops.length - 1), color: c }));
      return {
        type: 'rect', shape: { x: a[0], y: a[1], width: b[0] - a[0], height: b[1] - a[1] },
        style: { fill: new echarts.graphic.LinearGradient(0, 1, 0, 0, stops), stroke: '#222', lineWidth: 1 }
      };
    }
  },
  // inset
  {
    type: 'custom', xAxisIndex: 5, yAxisIndex: 5, silent: true, animation: false, z: 6,
    data: [[0, 0]],
    renderItem(params, api) {
      const s = params.coordSys;
      const poly = (pts, fill) => ({ type: 'polygon', shape: { points: pts.map(p => api.coord(p)) }, style: { fill, stroke: '#5b6b78', lineWidth: .8 } });
      return {
        type: 'group',
        children: [
          { type: 'rect', shape: { x: s.x, y: s.y, width: s.width, height: s.height }, style: { fill: '#fff', stroke: '#444', lineWidth: 1 } },
          poly(zoneOuter, '#87c6f8'),
          poly(zoneInner, '#00b9f5')
        ]
      };
    }
  },
  { type: 'line', xAxisIndex: 5, yAxisIndex: 5, z: 7, silent: true, animation: false, symbol: 'none', lineStyle: { color: '#2e9e3a', width: 1 }, data: kPath },
  { type: 'line', xAxisIndex: 5, yAxisIndex: 5, z: 8, silent: true, animation: false, symbol: 'none', lineStyle: { color: '#e0262e', width: 1.6, type: [2, 3] }, data: kPath },
  { type: 'scatter', xAxisIndex: 5, yAxisIndex: 5, z: 9, silent: true, animation: false, symbolSize: 3, itemStyle: { color: '#111' }, data: kMarks }
];

// Panel letters and annotations
const text = (x, y, t, fontSize, fill, extra) => ({
  type: 'text', x, y, z: 100,
  style: Object.assign({ text: t, fontFamily: serif, fontSize, fill }, extra || {})
});
const stateRich = {
  i: { fontFamily: serif, fontStyle: 'italic', fontSize: 29, fill: '#fff' },
  r: { fontFamily: serif, fontSize: 29, fill: '#fff' },
  s: { fontFamily: serif, fontSize: 19, fill: '#fff', padding: [12, 0, 0, 0] }
};
const xiRich = fill => ({
  i: { fontFamily: serif, fontStyle: 'italic', fontSize: 30, fill },
  r: { fontFamily: serif, fontSize: 30, fill }
});
const graphicEls = [
  text(2, 5, '(a)', 33, '#111'),
  text(604, 5, '(b)', 33, '#111'),
  text(2, 443, '(c)', 33, '#111'),
  text(604, 443, '(d)', 33, '#111'),
  text(106, 280, '{i|ξ}{r|\u00a0=\u00a00.5}', 30, '#dc143c', { rich: xiRich('#dc143c') }),
  text(106, 321, '{i|ξ}{r|\u00a0=\u00a00.0}', 30, '#00ffff', { rich: xiRich('#00ffff') }),
  text(707, 281, '{i|h}{r|\u00a0=\u00a04.0,\u00a0}{i|ξ}{s|eff}{r|\u00a0≈\u00a00.0}', 29, '#fff', { rich: stateRich }),
  text(94, 716, '{i|h}{r|\u00a0=\u00a03.4,\u00a0}{i|ξ}{s|eff}{r|\u00a0≈\u00a00.09}', 29, '#fff', { rich: stateRich }),
  text(707, 716, '{i|h}{r|\u00a0=\u00a01.0,\u00a0}{i|ξ}{s|eff}{r|\u00a0≈\u00a00.5}', 29, '#fff', { rich: stateRich }),
  text(461, 313, 'Γ', 18, '#111', { fontStyle: 'italic' }),
  text(495, 304, 'K′', 18, '#111', { fontStyle: 'italic' }),
  text(531, 313, 'K', 18, '#111', { fontStyle: 'italic' }),
  text(475, 337, 'M′', 18, '#111', { fontStyle: 'italic' }),
  text(517, 339, 'M', 18, '#111', { fontStyle: 'italic' })
];

const chart = echarts.init(document.getElementById('chart'), null, { renderer: 'canvas' });
chart.setOption({
  animation: false,
  backgroundColor: '#fff',
  grid: grids,
  xAxis: xAxes,
  yAxis: yAxes,
  series,
  graphic: { elements: graphicEls }
});
</script>
</body>
</html>
